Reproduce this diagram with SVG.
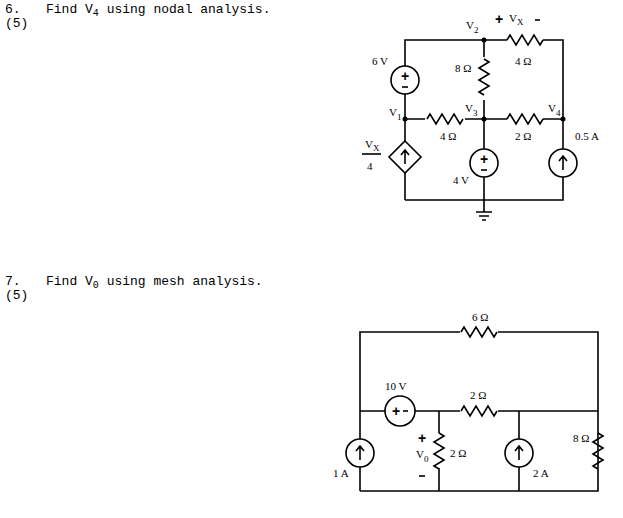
<svg xmlns="http://www.w3.org/2000/svg" width="623" height="518" viewBox="0 0 623 518">
<style>
.w{fill:none;stroke:#000;stroke-width:1.6}
.s{fill:#fff;stroke:#000;stroke-width:1.6}
.t{font-family:"Liberation Serif",serif;font-size:11px}
.p{font-family:"Liberation Sans",sans-serif;font-size:14px;font-weight:bold}
.m{font-family:"Liberation Mono",monospace;font-size:13px}
</style>
<defs>
<path id="rh" class="w" d="M0,0 l3,-5 l6,10 l6,-10 l6,10 l6,-10 l6,10 l3,-5"/>
<path id="rv" class="w" d="M0,0 l5,3 l-10,6 l10,6 l-10,6 l10,6 l-10,6 l5,3"/>
<g id="ua"><path class="w" d="M0,7 V-7 M-4,-2 L0,-7 L4,-2"/></g>
</defs>
<g id="text">
<text class="m" x="5" y="13">6.</text><text class="m" x="46" y="13">Find V<tspan font-size="10" dy="3">4</tspan><tspan dy="-3"> using nodal analysis.</tspan></text>
<text class="m" x="5" y="27">(5)</text>
<text class="m" x="5" y="285">7.</text><text class="m" x="46" y="285">Find V<tspan font-size="10" dy="3">0</tspan><tspan dy="-3"> using mesh analysis.</tspan></text>
<text class="m" x="5" y="299">(5)</text>
</g>
<g id="connectors">
<path class="w" d="M405,200 V40 H507 M543,40 H563 V200 H405 M484,40 V57 M484,100 V200 M405,119 H425 M465,119 H507 M543,119 H563 M484,200 V212 M476,212 H492 M479,216 H489 M482,220 H486"/>
<path class="w" d="M360,491 V332 H460 M498,332 H598 V491 H360 M360,411 H460 M498,411 H598 M439,411 V433 M439,468 V491 M519,411 V491 M598,433 V468"/>
</g>
<g id="c1">
<use href="#rh" x="507" y="40"/><use href="#rv" x="484" y="59"/>
<use href="#rh" x="427" y="119"/><use href="#rh" x="507" y="119"/>
<circle cx="484" cy="40" r="2.5"/><circle cx="405" cy="119" r="2.5"/><circle cx="484" cy="119" r="2.5"/><circle cx="563" cy="119" r="2.5"/>
<g id="v6"><circle class="s" cx="405" cy="80" r="14"/><text class="p" x="405" y="81" text-anchor="middle">+</text><path class="w" d="M402,87 H408"/></g>
<g id="dep"><path class="s" d="M405,141 L421,157 L405,173 L389,157 Z"/><use href="#ua" x="405" y="157"/></g>
<g id="v4s"><circle class="s" cx="484" cy="163" r="14"/><text class="p" x="484" y="164" text-anchor="middle">+</text><path class="w" d="M481,170 H487"/></g>
<g id="i05"><circle class="s" cx="563" cy="163" r="14"/><use href="#ua" x="563" y="163"/></g>
<text class="t" x="372" y="65">6 V</text>
<text class="t" x="455" y="72">8 Ω</text>
<text class="t" x="515" y="65">4 Ω</text>
<text class="t" x="466" y="29">V<tspan font-size="9" dy="4">2</tspan></text>
<text class="p" x="495" y="24">+</text><text class="t" x="509" y="22">V<tspan font-size="9" dy="3">X</tspan></text><path class="w" d="M535,20 H540"/>
<text class="t" x="389" y="116">V<tspan font-size="9" dy="4">1</tspan></text>
<text class="t" x="465" y="112">V<tspan font-size="9" dy="4">3</tspan></text>
<text class="t" x="548" y="112">V<tspan font-size="9" dy="4">4</tspan></text>
<text class="t" x="440" y="140">4 Ω</text>
<text class="t" x="515" y="140">2 Ω</text>
<text class="t" x="575" y="140">0.5 A</text>
<text class="t" x="365" y="148">V<tspan font-size="9" dy="3">X</tspan></text>
<path class="w" d="M362,154 H381" stroke-width="1"/>
<text class="t" x="367" y="170">4</text>
<text class="t" x="453" y="184">4 V</text>
</g>
<g id="c2">
<use href="#rh" x="461" y="332"/><use href="#rh" x="461" y="411"/>
<use href="#rv" x="439" y="433"/><use href="#rv" x="598" y="433"/>
<g id="v10"><circle class="s" cx="400" cy="411" r="15"/><text class="p" x="396" y="416" text-anchor="middle">+</text><path class="w" d="M403,411 H408"/></g>
<g id="i1"><circle class="s" cx="360" cy="453" r="14"/><use href="#ua" x="360" y="453"/></g>
<g id="i2"><circle class="s" cx="519" cy="453" r="14"/><use href="#ua" x="519" y="453"/></g>
<text class="t" x="472" y="321">6 Ω</text>
<text class="t" x="385" y="390">10 V</text>
<text class="t" x="470" y="399">2 Ω</text>
<text class="p" x="418" y="443">+</text>
<text class="t" x="416" y="458">V<tspan font-size="9" dy="4">0</tspan></text>
<path class="w" d="M419,476 H425"/>
<text class="t" x="450" y="457">2 Ω</text>
<text class="t" x="333" y="477">1 A</text>
<text class="t" x="533" y="477">2 A</text>
<text class="t" x="573" y="442">8 Ω</text>
</g>
</svg>
